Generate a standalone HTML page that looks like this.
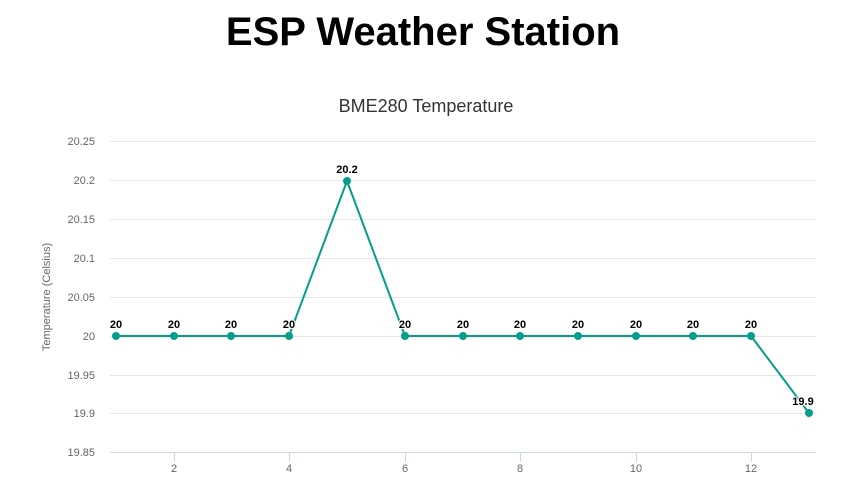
<!DOCTYPE html>
<html><head><style>
body{margin:0;background:#fff;width:846px;height:497px;overflow:hidden}
h1{margin:0;position:absolute;top:10px;left:0;width:846px;text-align:center;font:bold 40px "Liberation Sans",sans-serif;color:#000}
</style></head><body>
<h1>ESP Weather Station</h1>
<svg width="846" height="497" style="position:absolute;left:0;top:0" font-family="Liberation Sans, DejaVu Sans, sans-serif">
<text x="426" y="112" text-anchor="middle" font-size="18" fill="#333">BME280 Temperature</text>
<g stroke="#e6e6e6" stroke-width="1">
<line x1="110" x2="816" y1="141.5" y2="141.5"/><line x1="110" x2="816" y1="180.5" y2="180.5"/>
<line x1="110" x2="816" y1="219.5" y2="219.5"/><line x1="110" x2="816" y1="258.5" y2="258.5"/>
<line x1="110" x2="816" y1="297.5" y2="297.5"/><line x1="110" x2="816" y1="336.5" y2="336.5"/>
<line x1="110" x2="816" y1="375.5" y2="375.5"/><line x1="110" x2="816" y1="413.5" y2="413.5"/>
</g>
<line x1="110" x2="816" y1="452.5" y2="452.5" stroke="#ccd6eb"/>
<g stroke="#ccd6eb"><line x1="174.5" x2="174.5" y1="452" y2="462"/><line x1="289.5" x2="289.5" y1="452" y2="462"/><line x1="405.5" x2="405.5" y1="452" y2="462"/><line x1="520.5" x2="520.5" y1="452" y2="462"/><line x1="636.5" x2="636.5" y1="452" y2="462"/><line x1="751.5" x2="751.5" y1="452" y2="462"/></g>
<g font-size="11" fill="#666" text-anchor="end">
<text x="95" y="145">20.25</text><text x="95" y="184">20.2</text><text x="95" y="223">20.15</text><text x="95" y="262">20.1</text><text x="95" y="301">20.05</text><text x="95" y="340">20</text><text x="95" y="379">19.95</text><text x="95" y="417">19.9</text><text x="95" y="456">19.85</text>
</g>
<g font-size="11" fill="#666" text-anchor="middle">
<text x="174" y="472">2</text><text x="289" y="472">4</text><text x="405" y="472">6</text><text x="520" y="472">8</text><text x="636" y="472">10</text><text x="751" y="472">12</text>
</g>
<text transform="translate(50,297) rotate(-90)" text-anchor="middle" font-size="11" fill="#666">Temperature (Celsius)</text>
<polyline fill="none" stroke="#059e8a" stroke-width="2" points="116,336 174,336 231,336 289,336 347,181 405,336 463,336 520,336 578,336 636,336 693,336 751,336 809,413"/>
<g fill="#059e8a">
<circle cx="116" cy="336" r="4"/><circle cx="174" cy="336" r="4"/><circle cx="231" cy="336" r="4"/><circle cx="289" cy="336" r="4"/><circle cx="347" cy="181" r="4"/><circle cx="405" cy="336" r="4"/><circle cx="463" cy="336" r="4"/><circle cx="520" cy="336" r="4"/><circle cx="578" cy="336" r="4"/><circle cx="636" cy="336" r="4"/><circle cx="693" cy="336" r="4"/><circle cx="751" cy="336" r="4"/><circle cx="809" cy="413" r="4"/>
</g>
<g font-size="11" font-weight="bold" fill="#000" text-anchor="middle" stroke="#fff" stroke-width="2" paint-order="stroke">
<text x="116" y="328">20</text><text x="174" y="328">20</text><text x="231" y="328">20</text><text x="289" y="328">20</text><text x="347" y="173">20.2</text><text x="405" y="328">20</text><text x="463" y="328">20</text><text x="520" y="328">20</text><text x="578" y="328">20</text><text x="636" y="328">20</text><text x="693" y="328">20</text><text x="751" y="328">20</text><text x="803" y="405">19.9</text>
</g>
</svg>
</body></html>
